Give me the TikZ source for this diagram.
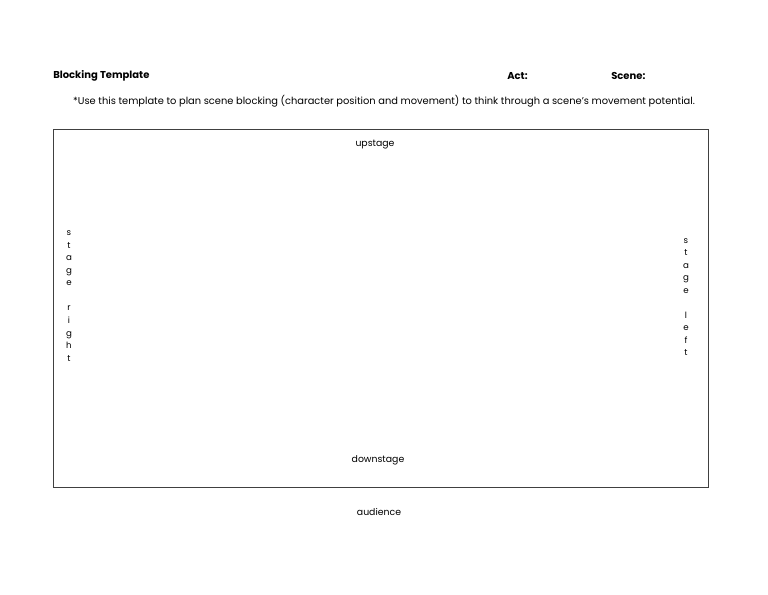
\documentclass[tikz,border=0pt]{standalone}
\usepackage{fontspec}
\setmainfont{Poppins}
\begin{document}
\begin{tikzpicture}[x=0.75pt, y=-0.75pt,
  label/.style={font=\fontsize{7}{8}\selectfont, inner sep=0pt},
  heading/.style={font=\fontsize{7.5}{9}\selectfont\bfseries, inner sep=0pt, anchor=west},
  side/.style={font=\fontsize{6.5}{9.4}\selectfont, inner sep=0pt, align=center}]
\useasboundingbox (0,0) rectangle (768,594);
\node [heading] (title) at (53,76) {Blocking Template};
\node [heading] (act) at (507,76) {Act:};
\node [heading] (scene) at (611,76) {Scene:};
\node [label, font=\fontsize{7.4}{9}\selectfont] (note) at (384,101) {*Use this template to plan scene blocking (character position and movement) to think through a scene's movement potential.};
\draw [line width=0.6pt, black!75] (53,129) rectangle (708,487);
\node [label] (up) at (375,145) {upstage};
\node [label] (down) at (378,460) {downstage};
\node [label] (aud) at (379,512) {audience};
\node [side] (right) at (69,296) {s\\t\\a\\g\\e\\ \\r\\i\\g\\h\\t};
\node [side] (left) at (686,297) {s\\t\\a\\g\\e\\ \\l\\e\\f\\t};
\end{tikzpicture}
\end{document}
